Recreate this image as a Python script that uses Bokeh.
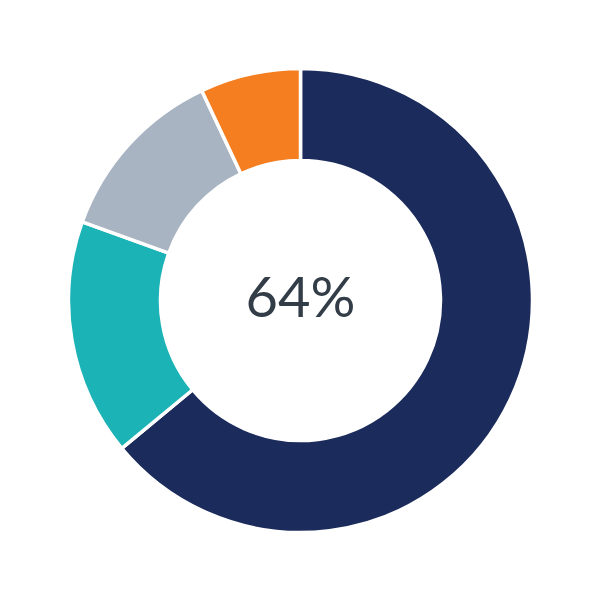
import math
from bokeh.plotting import figure
from bokeh.models import Range1d
from bokeh.core.properties import value
from bokeh.embed import file_html
from bokeh.resources import INLINE

categories = ["A", "B", "C", "D"]
shares = [64, 16.5, 12.5, 7]
colors = ["#1B2B5B", "#1CB3B7", "#A9B4C2", "#F47E20"]
center_label = "64%"

W = 584
p = figure(width=W, height=W, output_backend="svg", toolbar_location=None,
           x_range=Range1d(-300, 284), y_range=Range1d(-284, 300),
           min_border=0, outline_line_color=None)
p.axis.visible = False
p.grid.visible = False
p.background_fill_color = "white"

total = sum(shares)
starts, ends = [], []
cum = 0
for s in shares:
    starts.append(math.pi / 2 - 2 * math.pi * cum / total)
    cum += s
    ends.append(math.pi / 2 - 2 * math.pi * cum / total)

p.annular_wedge(x=0, y=0, inner_radius=140, outer_radius=232,
                start_angle=starts, end_angle=ends, direction="clock",
                fill_color=colors, line_color="white", line_width=3.5)

p.text(x=[0], y=[5], text=[center_label], text_align="center", text_baseline="middle",
       text_font=value("Lato"), text_font_size="56px", text_color="#333D47",
       text_font_style="normal")

open("out.html", "w").write(file_html(p, INLINE))
